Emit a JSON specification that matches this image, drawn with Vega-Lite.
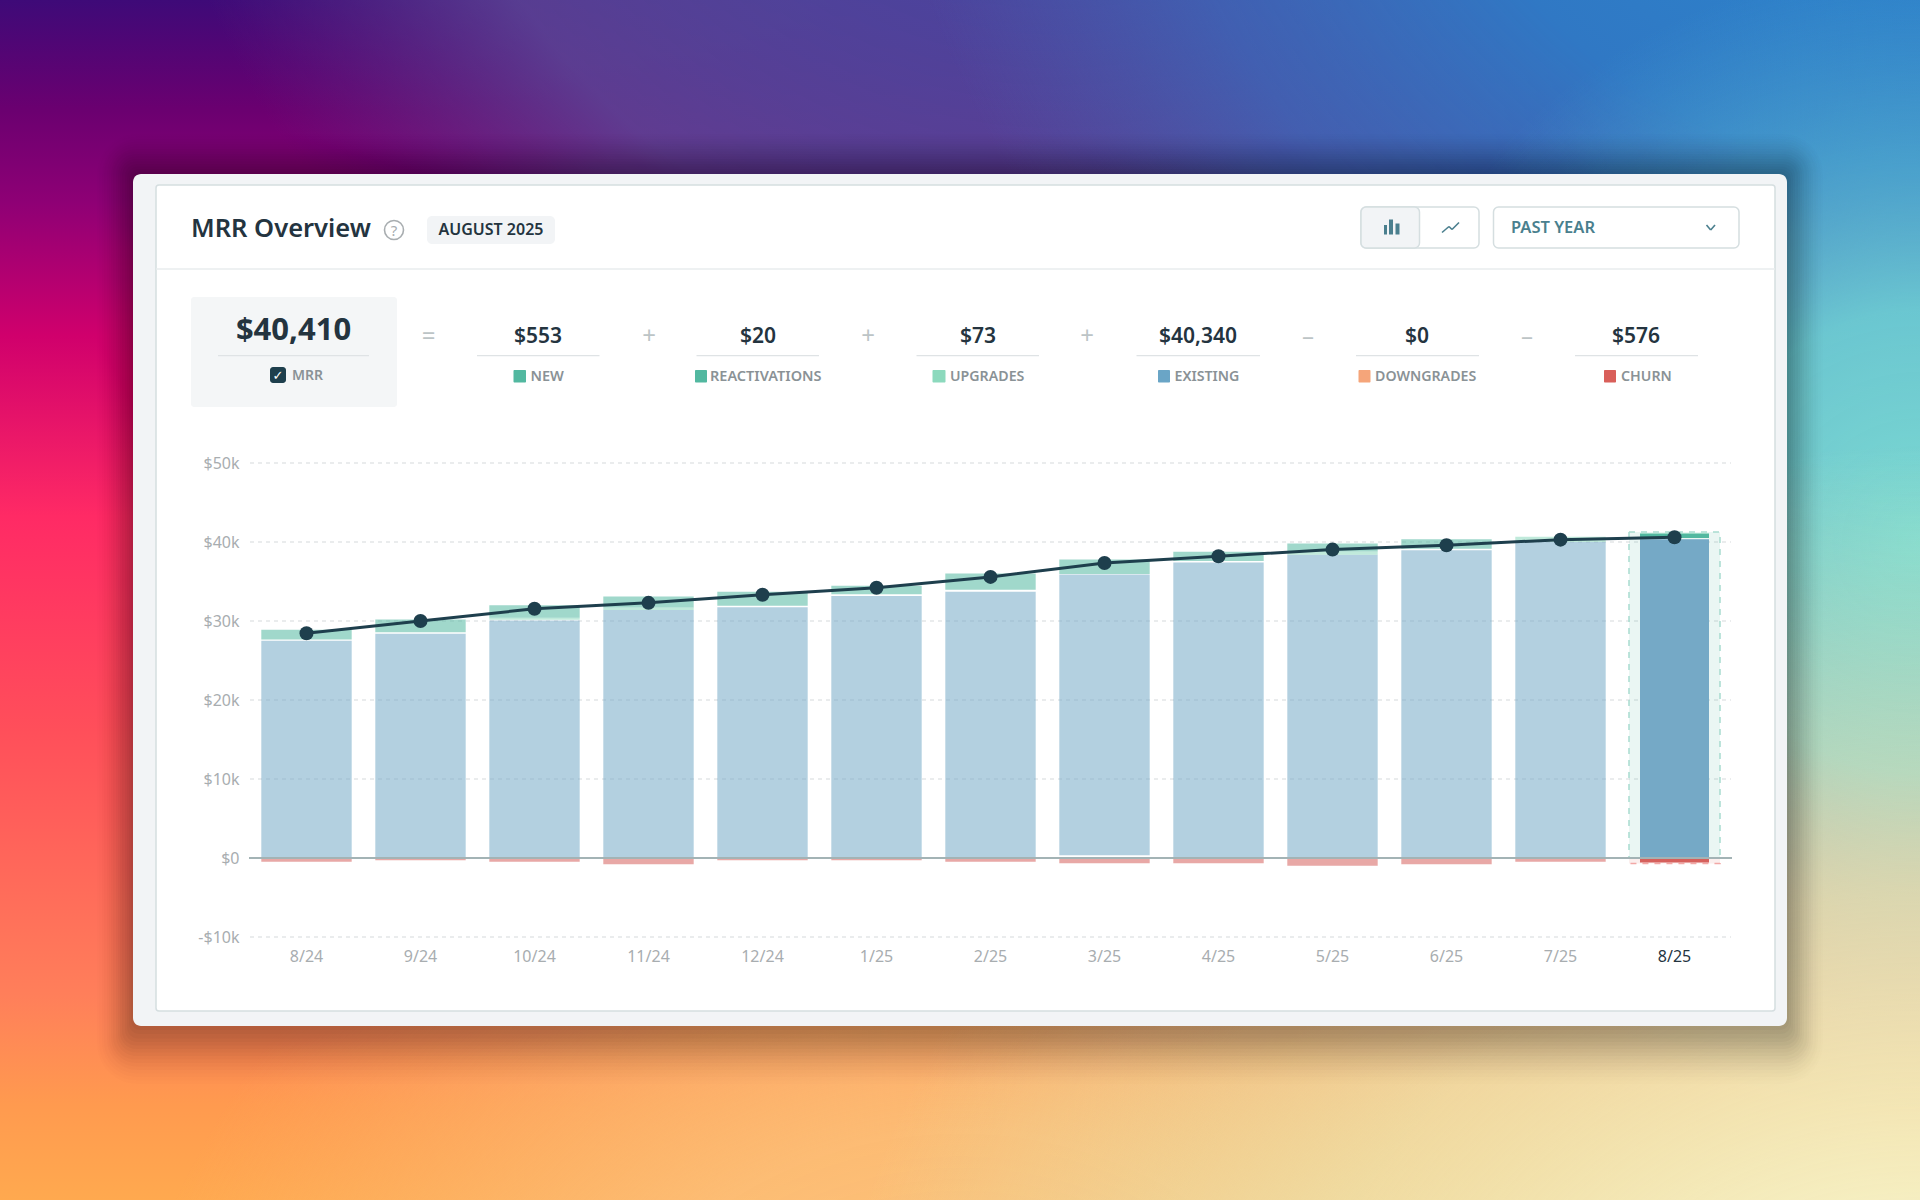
{"$schema":"https://vega.github.io/schema/vega-lite/v6.json","width":1920,"height":1200,"padding":0,"autosize":{"type":"none"},"background":"#ffffff","config":{"view":{"stroke":null},"text":{"font":"Noto Sans","baseline":"alphabetic"}},
"datasets":{
"bars":[
{"month":"8/24","series":"existing","start":0,"end":27500},{"month":"8/24","series":"new","start":27650,"end":28900},{"month":"8/24","series":"churn","start":0,"end":-470},
{"month":"9/24","series":"existing","start":0,"end":28400},{"month":"9/24","series":"new","start":28570,"end":30200},{"month":"9/24","series":"churn","start":0,"end":-300},
{"month":"10/24","series":"existing","start":0,"end":30050},{"month":"10/24","series":"upgrades","start":30150,"end":30400},{"month":"10/24","series":"new","start":30400,"end":32000},{"month":"10/24","series":"churn","start":0,"end":-470},
{"month":"11/24","series":"existing","start":0,"end":31400},{"month":"11/24","series":"upgrades","start":31400,"end":31700},{"month":"11/24","series":"new","start":31700,"end":33100},{"month":"11/24","series":"churn","start":0,"end":-800},
{"month":"12/24","series":"existing","start":0,"end":31730},{"month":"12/24","series":"new","start":31940,"end":33700},{"month":"12/24","series":"churn","start":0,"end":-300},
{"month":"1/25","series":"existing","start":0,"end":33160},{"month":"1/25","series":"new","start":33400,"end":34470},{"month":"1/25","series":"churn","start":0,"end":-300},
{"month":"2/25","series":"existing","start":0,"end":33700},{"month":"2/25","series":"new","start":33970,"end":36000},{"month":"2/25","series":"churn","start":0,"end":-470},
{"month":"3/25","series":"existing","start":350,"end":35900},{"month":"3/25","series":"new","start":35960,"end":37770},{"month":"3/25","series":"churn","start":0,"end":-680},
{"month":"4/25","series":"existing","start":0,"end":37400},{"month":"4/25","series":"new","start":37600,"end":38780},{"month":"4/25","series":"churn","start":0,"end":-680},
{"month":"5/25","series":"existing","start":0,"end":38400},{"month":"5/25","series":"upgrades","start":38400,"end":38800},{"month":"5/25","series":"new","start":38800,"end":39800},{"month":"5/25","series":"churn","start":0,"end":-970},
{"month":"6/25","series":"existing","start":0,"end":38950},{"month":"6/25","series":"new","start":39160,"end":40350},{"month":"6/25","series":"churn","start":0,"end":-800},
{"month":"7/25","series":"existing","start":0,"end":40000},{"month":"7/25","series":"upgrades","start":40000,"end":40680},{"month":"7/25","series":"churn","start":0,"end":-470},
{"month":"8/25","series":"existing","start":0,"end":40340},{"month":"8/25","series":"new","start":40500,"end":41053},{"month":"8/25","series":"reactivations","start":41053,"end":41073},{"month":"8/25","series":"upgrades","start":41073,"end":41146},{"month":"8/25","series":"churn","start":0,"end":-576}
],
"mrr":[{"month":"8/24","mrr":28450},{"month":"9/24","mrr":30000},{"month":"10/24","mrr":31550},{"month":"11/24","mrr":32300},{"month":"12/24","mrr":33330},{"month":"1/25","mrr":34200},{"month":"2/25","mrr":35580},{"month":"3/25","mrr":37350},{"month":"4/25","mrr":38200},{"month":"5/25","mrr":39040},{"month":"6/25","mrr":39580},{"month":"7/25","mrr":40300},{"month":"8/25","mrr":40600}],
"gridlines":[{"tick":-10000},{"tick":10000},{"tick":20000},{"tick":30000},{"tick":40000},{"tick":50000}]
},
"layer":[
{"data":{"values":[{}]},"mark":{"type":"rect","x":0,"x2":1920,"y":0,"y2":1200,"fill":{"gradient":"linear","x1":0,"y1":0,"x2":0,"y2":1,"stops":[{"offset":0,"color":"#3e0a78"},{"offset":0.09,"color":"#6a0070"},{"offset":0.17,"color":"#8f0075"},{"offset":0.28,"color":"#d0006c"},{"offset":0.43,"color":"#ff2a65"},{"offset":0.61,"color":"#ff4f5a"},{"offset":0.83,"color":"#ff7f5a"},{"offset":0.92,"color":"#ff9a4f"},{"offset":1,"color":"#ffa94f"}]}}},
{"data":{"values":[{}]},"mark":{"type":"rect","x":0,"x2":1920,"y":0,"y2":1200,"fill":{"gradient":"radial","x1":0.5,"y1":1,"r1":0,"x2":0.5,"y2":1,"r2":0.45,"stops":[{"offset":0,"color":"rgba(252,200,130,1)"},{"offset":0.5,"color":"rgba(252,192,122,0.85)"},{"offset":1,"color":"rgba(250,180,110,0)"}]}}},
{"data":{"values":[{}]},"mark":{"type":"rect","x":0,"x2":1920,"y":0,"y2":1200,"fill":{"gradient":"radial","x1":0.55,"y1":0,"r1":0,"x2":0.55,"y2":0,"r2":0.48,"stops":[{"offset":0,"color":"rgba(56,76,168,1)"},{"offset":0.35,"color":"rgba(74,68,158,1)"},{"offset":0.7,"color":"rgba(92,70,150,0.85)"},{"offset":1,"color":"rgba(92,50,130,0)"}]}}},
{"data":{"values":[{}]},"mark":{"type":"rect","x":0,"x2":1920,"y":0,"y2":1200,"fill":{"gradient":"radial","x1":1,"y1":0,"r1":0,"x2":1,"y2":0,"r2":0.55,"stops":[{"offset":0,"color":"rgba(40,144,212,1)"},{"offset":0.5,"color":"rgba(48,120,196,1)"},{"offset":0.75,"color":"rgba(60,105,185,0.75)"},{"offset":1,"color":"rgba(70,100,175,0)"}]}}},
{"data":{"values":[{}]},"mark":{"type":"rect","x":0,"x2":1920,"y":0,"y2":1200,"fill":{"gradient":"radial","x1":1,"y1":0.47,"r1":0,"x2":1,"y2":0.47,"r2":0.3,"stops":[{"offset":0,"color":"rgba(122,218,210,1)"},{"offset":0.4,"color":"rgba(110,210,212,0.9)"},{"offset":1,"color":"rgba(80,180,212,0)"}]}}},
{"data":{"values":[{}]},"mark":{"type":"rect","x":0,"x2":1920,"y":0,"y2":1200,"fill":{"gradient":"radial","x1":1,"y1":1,"r1":0,"x2":1,"y2":1,"r2":0.58,"stops":[{"offset":0,"color":"rgba(250,243,205,1)"},{"offset":0.3,"color":"rgba(246,240,196,1)"},{"offset":0.6,"color":"rgba(236,232,180,0.75)"},{"offset":1,"color":"rgba(220,232,180,0)"}]}}},

{"data":{"values":[{}]},"mark":{"type":"rect","x":97,"x2":1823,"y":134,"y2":1084,"cornerRadius":40,"fill":"#000","opacity":0.008}},
{"data":{"values":[{}]},"mark":{"type":"rect","x":99,"x2":1821,"y":136.5,"y2":1080.5,"cornerRadius":37,"fill":"#000","opacity":0.008}},
{"data":{"values":[{}]},"mark":{"type":"rect","x":102,"x2":1818,"y":139,"y2":1077,"cornerRadius":35,"fill":"#000","opacity":0.01}},
{"data":{"values":[{}]},"mark":{"type":"rect","x":104,"x2":1816,"y":141.5,"y2":1073.5,"cornerRadius":32,"fill":"#000","opacity":0.012}},
{"data":{"values":[{}]},"mark":{"type":"rect","x":107,"x2":1813,"y":144,"y2":1070,"cornerRadius":30,"fill":"#000","opacity":0.014}},
{"data":{"values":[{}]},"mark":{"type":"rect","x":109,"x2":1811,"y":146.5,"y2":1066.5,"cornerRadius":27,"fill":"#000","opacity":0.016}},
{"data":{"values":[{}]},"mark":{"type":"rect","x":111,"x2":1809,"y":149,"y2":1063,"cornerRadius":25,"fill":"#000","opacity":0.018}},
{"data":{"values":[{}]},"mark":{"type":"rect","x":113,"x2":1807,"y":151.5,"y2":1059.5,"cornerRadius":22,"fill":"#000","opacity":0.02}},
{"data":{"values":[{}]},"mark":{"type":"rect","x":116,"x2":1804,"y":154,"y2":1056,"cornerRadius":20,"fill":"#000","opacity":0.022}},
{"data":{"values":[{}]},"mark":{"type":"rect","x":118,"x2":1802,"y":156.5,"y2":1052.5,"cornerRadius":18,"fill":"#000","opacity":0.024}},
{"data":{"values":[{}]},"mark":{"type":"rect","x":120,"x2":1800,"y":159,"y2":1049,"cornerRadius":16,"fill":"#000","opacity":0.026}},
{"data":{"values":[{}]},"mark":{"type":"rect","x":122,"x2":1798,"y":161.5,"y2":1045.5,"cornerRadius":14,"fill":"#000","opacity":0.026}},
{"data":{"values":[{}]},"mark":{"type":"rect","x":125,"x2":1795,"y":164,"y2":1042,"cornerRadius":12,"fill":"#000","opacity":0.028}},
{"data":{"values":[{}]},"mark":{"type":"rect","x":127,"x2":1793,"y":166.5,"y2":1038.5,"cornerRadius":11,"fill":"#000","opacity":0.028}},
{"data":{"values":[{}]},"mark":{"type":"rect","x":129,"x2":1791,"y":169,"y2":1034,"cornerRadius":10,"fill":"#000","opacity":0.028}},
{"data":{"values":[{}]},"mark":{"type":"rect","x":131,"x2":1789,"y":171.5,"y2":1030,"cornerRadius":9,"fill":"#000","opacity":0.028}},

{"data":{"values":[{}]},"mark":{"type":"rect","x":133,"x2":1787,"y":174,"y2":1026,"cornerRadius":8,"fill":"#f2f4f6"}},
{"data":{"values":[{}]},"mark":{"type":"rect","x":156,"x2":1775,"y":185,"y2":1011,"cornerRadius":3,"fill":"#ffffff","stroke":"#d5dee0","strokeWidth":1.5}},
{"data":{"values":[{}]},"mark":{"type":"rect","x":156,"x2":1775,"y":268.3,"y2":269.8,"fill":"#e8ecee"}},

{"data":{"values":[{"t":"MRR Overview"}]},"mark":{"type":"text","x":191,"y":237,"align":"left","fontSize":25.5,"fontWeight":600,"fill":"#24343f"},"encoding":{"text":{"field":"t"}}},
{"data":{"values":[{}]},"mark":{"type":"point","x":394,"y":230,"filled":false,"size":361,"stroke":"#a8adb0","strokeWidth":1.6,"opacity":1},"encoding":{"shape":{"value":"circle"}}},
{"data":{"values":[{"t":"?"}]},"mark":{"type":"text","x":394,"y":235.5,"align":"center","fontSize":15,"fill":"#a8adb0"},"encoding":{"text":{"field":"t"}}},
{"data":{"values":[{}]},"mark":{"type":"rect","x":427,"x2":555,"y":216,"y2":244,"cornerRadius":5,"fill":"#f2f4f6"}},
{"data":{"values":[{"t":"AUGUST 2025"}]},"mark":{"type":"text","x":491,"y":235,"align":"center","fontSize":16,"fontWeight":600,"fill":"#24343f"},"encoding":{"text":{"field":"t"}}},

{"data":{"values":[{}]},"mark":{"type":"rect","x":1361,"x2":1479,"y":207,"y2":248,"cornerRadius":5,"fill":"#ffffff","stroke":"#d5dee0","strokeWidth":1.5}},
{"data":{"values":[{}]},"mark":{"type":"rect","x":1361,"x2":1419.5,"y":207,"y2":248,"cornerRadius":5,"fill":"#f2f4f6","stroke":"#d5dee0","strokeWidth":1.5}},
{"data":{"values":[{}]},"mark":{"type":"rect","x":1384,"x2":1387,"y":225,"y2":234.5,"fill":"#4a7f8e"}},
{"data":{"values":[{}]},"mark":{"type":"rect","x":1389,"x2":1393,"y":219.5,"y2":234.5,"fill":"#4a7f8e"}},
{"data":{"values":[{}]},"mark":{"type":"rect","x":1395.5,"x2":1399.5,"y":223.5,"y2":234.5,"fill":"#4a7f8e"}},
{"data":{"values":[{}]},"mark":{"type":"rule","stroke":"#4a7f8e","strokeWidth":1.6},"encoding":{"x":{"value":1442},"y":{"value":232.5},"x2":{"value":1449},"y2":{"value":226.5}}},
{"data":{"values":[{}]},"mark":{"type":"rule","stroke":"#4a7f8e","strokeWidth":1.6},"encoding":{"x":{"value":1449},"y":{"value":226.5},"x2":{"value":1452},"y2":{"value":229.5}}},
{"data":{"values":[{}]},"mark":{"type":"rule","stroke":"#4a7f8e","strokeWidth":1.6},"encoding":{"x":{"value":1452},"y":{"value":229.5},"x2":{"value":1459},"y2":{"value":222.5}}},
{"data":{"values":[{}]},"mark":{"type":"rect","x":1493.5,"x2":1739,"y":207,"y2":248,"cornerRadius":5,"fill":"#ffffff","stroke":"#d5dee0","strokeWidth":1.5}},
{"data":{"values":[{"t":"PAST YEAR"}]},"mark":{"type":"text","x":1511,"y":233,"align":"left","fontSize":16.5,"fontWeight":600,"fill":"#4a7f8e"},"encoding":{"text":{"field":"t"}}},
{"data":{"values":[{}]},"mark":{"type":"rule","stroke":"#4a7f8e","strokeWidth":1.6},"encoding":{"x":{"value":1706.5},"y":{"value":225},"x2":{"value":1710.7},"y2":{"value":230}}},
{"data":{"values":[{}]},"mark":{"type":"rule","stroke":"#4a7f8e","strokeWidth":1.6},"encoding":{"x":{"value":1710.7},"y":{"value":230},"x2":{"value":1715},"y2":{"value":225}}},

{"data":{"values":[{}]},"mark":{"type":"rect","x":191,"x2":397,"y":297,"y2":407,"cornerRadius":3,"fill":"#f4f6f7"}},
{"data":{"values":[{"t":"$40,410"}]},"mark":{"type":"text","x":293.5,"y":340,"align":"center","fontSize":31,"fontWeight":700,"fill":"#24343f"},"encoding":{"text":{"field":"t"}}},
{"data":{"values":[{}]},"mark":{"type":"rect","x":218,"x2":369,"y":355,"y2":356.2,"fill":"#dfe3e5"}},
{"data":{"values":[{}]},"mark":{"type":"rect","x":270,"x2":286,"y":367,"y2":383,"cornerRadius":3,"fill":"#1e3f4d"}},
{"data":{"values":[{"t":"✓"}]},"mark":{"type":"text","x":278,"y":380,"align":"center","font":"DejaVu Sans","fontSize":13,"fontWeight":700,"fill":"#ffffff"},"encoding":{"text":{"field":"t"}}},
{"data":{"values":[{"t":"MRR"}]},"mark":{"type":"text","x":292,"y":380,"align":"left","fontSize":14,"fontWeight":600,"fill":"#8a9296"},"encoding":{"text":{"field":"t"}}},

{"data":{"values":[{"t":"="}]},"mark":{"type":"text","x":428.5,"y":344,"align":"center","fontSize":24,"fill":"#bcc4c6"},"encoding":{"text":{"field":"t"}}},
{"data":{"values":[{"t":"+"}]},"mark":{"type":"text","x":649,"y":344,"align":"center","fontSize":24,"fill":"#bcc4c6"},"encoding":{"text":{"field":"t"}}},
{"data":{"values":[{"t":"+"}]},"mark":{"type":"text","x":868,"y":344,"align":"center","fontSize":24,"fill":"#bcc4c6"},"encoding":{"text":{"field":"t"}}},
{"data":{"values":[{"t":"+"}]},"mark":{"type":"text","x":1087,"y":344,"align":"center","fontSize":24,"fill":"#bcc4c6"},"encoding":{"text":{"field":"t"}}},
{"data":{"values":[{"t":"–"}]},"mark":{"type":"text","x":1308,"y":344,"align":"center","fontSize":24,"fill":"#bcc4c6"},"encoding":{"text":{"field":"t"}}},
{"data":{"values":[{"t":"–"}]},"mark":{"type":"text","x":1527,"y":344,"align":"center","fontSize":24,"fill":"#bcc4c6"},"encoding":{"text":{"field":"t"}}},

{"data":{"values":[{"t":"$553"}]},"mark":{"type":"text","x":538,"y":343,"align":"center","fontSize":21,"fontWeight":600,"fill":"#24343f"},"encoding":{"text":{"field":"t"}}},
{"data":{"values":[{"t":"$20"}]},"mark":{"type":"text","x":758,"y":343,"align":"center","fontSize":21,"fontWeight":600,"fill":"#24343f"},"encoding":{"text":{"field":"t"}}},
{"data":{"values":[{"t":"$73"}]},"mark":{"type":"text","x":978,"y":343,"align":"center","fontSize":21,"fontWeight":600,"fill":"#24343f"},"encoding":{"text":{"field":"t"}}},
{"data":{"values":[{"t":"$40,340"}]},"mark":{"type":"text","x":1198,"y":343,"align":"center","fontSize":21,"fontWeight":600,"fill":"#24343f"},"encoding":{"text":{"field":"t"}}},
{"data":{"values":[{"t":"$0"}]},"mark":{"type":"text","x":1417,"y":343,"align":"center","fontSize":21,"fontWeight":600,"fill":"#24343f"},"encoding":{"text":{"field":"t"}}},
{"data":{"values":[{"t":"$576"}]},"mark":{"type":"text","x":1636,"y":343,"align":"center","fontSize":21,"fontWeight":600,"fill":"#24343f"},"encoding":{"text":{"field":"t"}}},

{"data":{"values":[{}]},"mark":{"type":"rect","x":477,"x2":599.5,"y":355,"y2":356.2,"fill":"#dfe3e5"}},
{"data":{"values":[{}]},"mark":{"type":"rect","x":696.5,"x2":819,"y":355,"y2":356.2,"fill":"#dfe3e5"}},
{"data":{"values":[{}]},"mark":{"type":"rect","x":916.5,"x2":1039,"y":355,"y2":356.2,"fill":"#dfe3e5"}},
{"data":{"values":[{}]},"mark":{"type":"rect","x":1136.5,"x2":1260,"y":355,"y2":356.2,"fill":"#dfe3e5"}},
{"data":{"values":[{}]},"mark":{"type":"rect","x":1356,"x2":1479,"y":355,"y2":356.2,"fill":"#dfe3e5"}},
{"data":{"values":[{}]},"mark":{"type":"rect","x":1575,"x2":1698,"y":355,"y2":356.2,"fill":"#dfe3e5"}},

{"data":{"values":[{}]},"mark":{"type":"rect","x":513.5,"x2":526,"y":370,"y2":382.5,"cornerRadius":1,"fill":"#52b8a0"}},
{"data":{"values":[{}]},"mark":{"type":"rect","x":695,"x2":707,"y":370,"y2":382.5,"cornerRadius":1,"fill":"#52b8a0"}},
{"data":{"values":[{}]},"mark":{"type":"rect","x":932.5,"x2":945.5,"y":370,"y2":382.5,"cornerRadius":1,"fill":"#8cd9bd"}},
{"data":{"values":[{}]},"mark":{"type":"rect","x":1158,"x2":1170,"y":370,"y2":382.5,"cornerRadius":1,"fill":"#6aa5c6"}},
{"data":{"values":[{}]},"mark":{"type":"rect","x":1358.5,"x2":1370.5,"y":370,"y2":382.5,"cornerRadius":1,"fill":"#f5a57a"}},
{"data":{"values":[{}]},"mark":{"type":"rect","x":1604,"x2":1616,"y":370,"y2":382.5,"cornerRadius":1,"fill":"#d95f5a"}},
{"data":{"values":[{"t":"NEW"}]},"mark":{"type":"text","x":530.5,"y":380.5,"align":"left","fontSize":14.5,"fontWeight":600,"fill":"#8a9296"},"encoding":{"text":{"field":"t"}}},
{"data":{"values":[{"t":"REACTIVATIONS"}]},"mark":{"type":"text","x":710,"y":380.5,"align":"left","fontSize":14.5,"fontWeight":600,"fill":"#8a9296"},"encoding":{"text":{"field":"t"}}},
{"data":{"values":[{"t":"UPGRADES"}]},"mark":{"type":"text","x":950,"y":380.5,"align":"left","fontSize":14.2,"fontWeight":600,"fill":"#8a9296"},"encoding":{"text":{"field":"t"}}},
{"data":{"values":[{"t":"EXISTING"}]},"mark":{"type":"text","x":1174.5,"y":380.5,"align":"left","fontSize":14.2,"fontWeight":600,"fill":"#8a9296"},"encoding":{"text":{"field":"t"}}},
{"data":{"values":[{"t":"DOWNGRADES"}]},"mark":{"type":"text","x":1375,"y":380.5,"align":"left","fontSize":14.2,"fontWeight":600,"fill":"#8a9296"},"encoding":{"text":{"field":"t"}}},
{"data":{"values":[{"t":"CHURN"}]},"mark":{"type":"text","x":1621,"y":380.5,"align":"left","fontSize":14.2,"fontWeight":600,"fill":"#8a9296"},"encoding":{"text":{"field":"t"}}},

{"encoding":{
"x":{"field":"month","type":"nominal","title":null,"scale":{"type":"band","domain":["8/24","9/24","10/24","11/24","12/24","1/25","2/25","3/25","4/25","5/25","6/25","7/25","8/25"],"range":[249.5,1731.5],"paddingInner":0.207,"paddingOuter":0.1035},"axis":{"orient":"bottom","offset":-263,"zindex":1,"domain":false,"ticks":false,"grid":false,"labelAngle":0,"labelPadding":11,"labelFont":"Noto Sans","labelFontSize":16,"labelColor":{"condition":{"test":"datum.label == '8/25'","value":"#24343f"},"value":"#a8adb0"},"title":null}}
},
"layer":[
{"data":{"name":"gridlines"},"mark":{"type":"rule","x":250,"x2":1731,"stroke":"#d5d9db","strokeWidth":1.2,"strokeDash":[4,4]},"encoding":{"x":null,"y":{"field":"tick","type":"quantitative","title":null,"scale":{"domain":[-10000,50000],"range":[937,463],"nice":false,"zero":false},"axis":{"orient":"left","offset":-250,"zindex":1,"domain":false,"ticks":false,"grid":false,"labelPadding":11,"labelFont":"Noto Sans","labelFontSize":16,"labelColor":"#a8adb0","values":[-10000,0,10000,20000,30000,40000,50000],"labelExpr":"(datum.value<0?'-':'')+'$'+abs(datum.value)/1000+(datum.value==0?'':'k')","title":null}}}},
{"data":{"values":[{"month":"8/25","a":0,"b":41270}]},"mark":{"type":"bar","width":91,"fill":"#52b8a0","fillOpacity":0.12,"stroke":"#a8dccf","strokeWidth":1.5,"strokeDash":[6,6]},"encoding":{"y":{"field":"b","type":"quantitative"},"y2":{"field":"a"}}},
{"data":{"values":[{"month":"8/25","a":0,"b":-690}]},"mark":{"type":"bar","width":91,"fill":"#d6605c","fillOpacity":0.1,"stroke":"#f2a8a6","strokeWidth":1.5,"strokeDash":[6,6]},"encoding":{"y":{"field":"b","type":"quantitative"},"y2":{"field":"a"}}},
{"data":{"name":"bars"},"transform":[{"filter":"datum.month != '8/25'"}],"mark":{"type":"bar","opacity":0.55},"encoding":{"y":{"field":"end","type":"quantitative"},"y2":{"field":"start"},"color":{"field":"series","type":"nominal","scale":{"domain":["new","reactivations","upgrades","existing","downgrades","churn"],"range":["#52b8a0","#52b8a0","#8cd9bd","#75a9c6","#f5a57a","#d6605c"]},"legend":null}}},
{"data":{"name":"bars"},"transform":[{"filter":"datum.month == '8/25'"}],"mark":{"type":"bar","width":69},"encoding":{"y":{"field":"end","type":"quantitative"},"y2":{"field":"start"},"color":{"field":"series","type":"nominal","legend":null}}},
{"data":{"values":[{"base":0}]},"mark":{"type":"rule","x":249,"x2":1732,"stroke":"#a3b3b5","strokeWidth":2},"encoding":{"x":null,"y":{"field":"base","type":"quantitative"}}},
{"data":{"name":"mrr"},"mark":{"type":"line","stroke":"#1e3f4d","strokeWidth":3},"encoding":{"y":{"field":"mrr","type":"quantitative"}}},
{"data":{"name":"mrr"},"mark":{"type":"point","filled":true,"size":196,"fill":"#1e3f4d","opacity":1},"encoding":{"shape":{"value":"circle"},"y":{"field":"mrr","type":"quantitative"}}}
]}
]}
